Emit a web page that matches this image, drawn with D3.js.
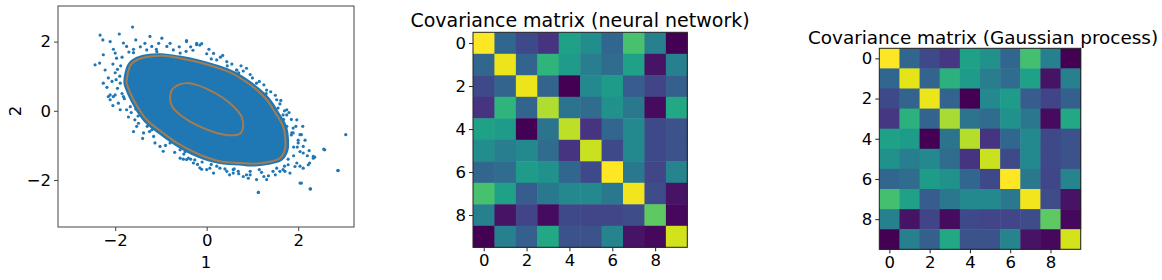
<!DOCTYPE html>
<html><head><meta charset="utf-8">
<script src="https://cdn.jsdelivr.net/npm/d3@7"></script>
<style>body{margin:0;background:#fff} text{font-family:"DejaVu Sans",sans-serif;fill:#000}</style>
</head><body><svg id="c" width="1162" height="280"></svg>
<script>
// ---------- data ----------
const scatterTicks = [-2, 0, 2];
const heatTicks = [0, 2, 4, 6, 8];
const xLabel = "1", yLabel = "2";
const titleNN = "Covariance matrix (neural network)";
const titleGP = "Covariance matrix (Gaussian process)";

// dense core of the sample cloud (data coords)
const coreOutline = [[-1.82,0.80],[-1.80,1.07],[-1.72,1.37],[-1.53,1.56],[-1.25,1.65],[-0.93,1.66],[-0.56,1.59],[-0.19,1.49],[0.18,1.35],[0.55,1.18],[0.86,0.95],[1.15,0.66],[1.39,0.35],[1.60,-0.08],[1.75,-0.43],[1.80,-0.85],[1.78,-1.18],[1.65,-1.44],[1.33,-1.57],[1.0,-1.61],[0.7,-1.58],[0.25,-1.53],[-0.2,-1.35],[-0.70,-1.00],[-1.02,-0.70],[-1.38,-0.31],[-1.66,0.27],[-1.78,0.62]];
// individual samples outside the dense core
const samples = [[-1.62,2.42],[-2.33,2.19],[-2.27,2.05],[-1.91,2.22],[-2.11,2.0],[-1.24,2.15],[-0.98,2.1],[-0.44,2.03],[-0.22,1.91],[-0.11,1.94],[-2.26,1.62],[-2.04,1.78],[-1.82,1.96],[-1.75,1.86],[-2.0,1.67],[-1.97,1.52],[-2.44,1.33],[-2.34,1.38],[-2.22,1.18],[-2.15,0.95],[-2.07,0.85],[-2.26,0.8],[-1.89,0.8],[-2.04,0.41],[-2.11,0.46],[-1.82,0.41],[-1.67,0.12],[-1.57,-0.26],[-1.53,-0.45],[-1.31,1.76],[-1.2,1.86],[-1.09,1.71],[-0.87,1.86],[-0.73,1.76],[-0.58,1.67],[0.22,1.47],[0.44,1.42],[0.66,1.18],
[3.04,-0.69],[2.87,-1.73],[2.56,-1.11],[2.26,-2.26],[2.04,-2.09],[1.13,-2.36],[2.33,-1.37],[2.36,-1.34],[2.22,-1.56],[2.11,-1.66],[2.24,-1.15],[2.07,-0.69],[1.97,-0.26],[1.89,-0.5],[1.86,-0.64],[1.75,-0.12],[1.56,0.08],[1.45,0.12],[1.67,-0.12],[1.75,0.03],[1.09,-1.99],[1.31,-1.99],[1.35,-1.88],[0.91,-1.95],[0.95,-1.85],[0.69,-1.75],[0.58,-1.7],[0.44,-1.75],[0.29,-1.66],[0.07,-1.66],[-0.11,-1.69],[-0.26,-1.42],[-0.4,-1.37],[-0.51,-1.4],[-0.58,-1.13],[-0.47,-1.18],[1.53,-1.66],[1.6,-1.75],[1.71,-1.75],[1.82,-1.8],[1.93,-1.61],[1.97,-1.51],[1.78,-1.56],[2.04,-1.18],[2.11,-1.22],[2.0,-0.93],
[-1.71,-0.18],[-1.49,-0.36],[-1.6,-0.6],[-1.38,-0.64],[-1.16,-0.74],[-1.13,-0.93],[-0.95,-1.17],[-1.02,-1.03],[-0.8,-0.93],[-0.58,-1.37],[-0.44,-1.41],[-2.18,0.68],[-2.11,0.32],[-2.0,0.46],[-2.15,0.41],[-1.93,0.22],[-1.89,0.03],[-1.75,0.03],
[-0.15,1.9],[-0.22,1.95],[-0.44,2.0],[0.15,1.66],[0.65,1.18],[0.87,1.23],[1.09,0.8],[1.31,0.6],[1.24,0.41],[1.53,0.32],[1.75,-0.45],[1.89,-0.64],[2.04,-0.69],[2.11,-1.03],[2.33,-1.32],[2.58,-1.13],[2.25,-1.51],[2.04,-1.6],[2.07,-2.09],[2.27,-2.26],[2.87,-1.72],[1.13,-2.36],[0.58,-1.8],[0.87,-1.85],[1.67,-1.7],[0.22,-1.6],[0,-1.7],[-0.15,-1.65],[-0.29,-1.51],
[-1.95,1.2],[-1.9,1.0],[-2.0,1.1],[-1.7,1.7],[-1.45,1.85],[-1.6,1.78],[-1.35,1.95],[-0.8,1.95],[-0.6,1.85],[-0.3,1.75],[0.0,1.65],[0.3,1.55],[0.55,1.35],[0.8,1.15],[0.95,1.05],[1.15,0.85],[1.4,0.55],[1.6,0.2],[1.7,0.0],[1.85,-0.25],[1.95,-0.45],[2.0,-0.85],[1.98,-1.05],[1.9,-1.3],[1.7,-1.6],[1.45,-1.75],[1.2,-1.78],[0.95,-1.75],[0.7,-1.82],[0.4,-1.68],[0.1,-1.55],[-0.35,-1.4],[-0.9,-1.0],[-1.25,-0.6],[-1.5,-0.15],[-1.8,0.35],[-1.95,0.65],[-1.98,0.9],
[-2.05,1.35],[-1.85,1.55],[-1.55,2.05],[-1.05,1.95],[-0.35,1.85],[0.05,1.78],[0.35,1.6],[0.75,1.3],[1.0,0.95],[1.25,0.75],[1.5,0.45],[1.62,0.3],[1.8,-0.05],[2.1,-0.45],[2.15,-0.85],[2.2,-1.3],[1.5,-1.85],[1.25,-1.9],[0.8,-1.9],[0.5,-1.85],[0.15,-1.8],[-0.2,-1.55],[-0.7,-1.2],[-1.3,-0.45],[-1.4,-0.8],[-1.65,-0.05],[-2.05,0.15],
[-1.88,1.3],[-1.6,1.68],[-1.1,1.78],[-0.45,1.72],[0.1,1.5],[0.45,1.3],[0.7,1.1],[1.3,0.5],[1.68,-0.25],[1.85,-0.7],[1.9,-1.05],[1.78,-1.4],[1.15,-1.7],[0.6,-1.68],[-0.1,-1.48],[-0.5,-1.25],[-1.2,-0.55],[-1.55,0.05],[-1.85,0.5]];

// density contours (data coords)
const outerContour = [[-1.75,0.80],[-1.73,1.04],[-1.66,1.33],[-1.49,1.49],[-1.24,1.57],[-0.95,1.59],[-0.58,1.52],[-0.22,1.42],[0.15,1.28],[0.51,1.11],[0.80,0.89],[1.09,0.61],[1.31,0.32],[1.53,-0.12],[1.67,-0.45],[1.72,-0.84],[1.71,-1.13],[1.60,-1.37],[1.31,-1.49],[1.02,-1.53],[0.73,-1.51],[0.29,-1.46],[-0.15,-1.27],[-0.65,-0.93],[-0.95,-0.64],[-1.31,-0.26],[-1.60,0.32],[-1.71,0.65]];
const innerContour = [[-0.80,0.37],[-0.76,0.61],[-0.62,0.75],[-0.44,0.80],[-0.22,0.75],[0.07,0.59],[0.36,0.37],[0.62,0.08],[0.76,-0.16],[0.80,-0.45],[0.73,-0.66],[0.51,-0.71],[0.22,-0.64],[-0.07,-0.50],[-0.36,-0.31],[-0.62,-0.07],[-0.76,0.14]];

// covariance matrices (normalised colour values)
const nnMatrix = [
 [1.00,0.33,0.22,0.15,0.57,0.49,0.33,0.71,0.43,0.00],
 [0.33,0.97,0.32,0.65,0.55,0.42,0.35,0.57,0.05,0.43],
 [0.22,0.32,0.97,0.32,0.00,0.47,0.55,0.29,0.20,0.30],
 [0.15,0.65,0.32,0.88,0.38,0.35,0.50,0.40,0.03,0.60],
 [0.57,0.55,0.00,0.38,0.90,0.15,0.33,0.47,0.22,0.25],
 [0.49,0.42,0.47,0.35,0.15,0.92,0.22,0.47,0.22,0.25],
 [0.33,0.35,0.55,0.50,0.33,0.22,1.00,0.40,0.21,0.45],
 [0.71,0.57,0.29,0.40,0.47,0.47,0.40,0.98,0.23,0.05],
 [0.43,0.05,0.20,0.03,0.22,0.21,0.21,0.23,0.75,0.02],
 [0.00,0.43,0.30,0.60,0.25,0.25,0.45,0.05,0.02,0.93]];
const gpMatrix = [
 [1.00,0.33,0.22,0.16,0.57,0.50,0.33,0.70,0.43,0.00],
 [0.33,0.96,0.32,0.64,0.55,0.42,0.35,0.57,0.05,0.43],
 [0.22,0.32,0.97,0.32,0.00,0.47,0.55,0.29,0.20,0.30],
 [0.16,0.64,0.32,0.87,0.38,0.35,0.50,0.40,0.03,0.60],
 [0.57,0.55,0.00,0.38,0.89,0.15,0.33,0.47,0.22,0.25],
 [0.50,0.42,0.47,0.35,0.15,0.92,0.22,0.47,0.22,0.25],
 [0.33,0.35,0.55,0.50,0.33,0.22,1.00,0.40,0.21,0.45],
 [0.70,0.57,0.29,0.40,0.47,0.47,0.40,0.98,0.23,0.05],
 [0.43,0.05,0.20,0.03,0.22,0.21,0.21,0.23,0.75,0.02],
 [0.00,0.43,0.30,0.60,0.25,0.25,0.45,0.05,0.02,0.93]];

// ---------- drawing ----------
const svg = d3.select("#c");
const FS = 16.5;
const blue = "#1f77b4";
const intFmt = d3.format("d");

// scatter panel
{
  const x = d3.scaleLinear().domain([-3.25,3.22]).range([58,354]);
  const y = d3.scaleLinear().domain([-3.36,3.03]).range([227,6]);
  const g = svg.append("g");
  const clipId = "clipS";
  g.append("clipPath").attr("id",clipId).append("rect")
    .attr("x",58).attr("y",6).attr("width",296).attr("height",221);
  const pg = g.append("g").attr("clip-path",`url(#${clipId})`);
  const line = d3.line().x(d=>x(d[0])).y(d=>y(d[1])).curve(d3.curveCatmullRomClosed);
  pg.append("path").attr("d",line(coreOutline)).attr("fill",blue);
  pg.selectAll("circle").data(samples).join("circle")
    .attr("cx",d=>x(d[0])).attr("cy",d=>y(d[1])).attr("r",1.6).attr("fill",blue);
  [outerContour, innerContour].forEach(c=>{
    pg.append("path").attr("d",line(c)).attr("fill","none")
      .attr("stroke","#ff7f0e").attr("stroke-opacity",0.6).attr("stroke-width",2);
  });
  const ax = g.append("g").attr("transform","translate(0,227)")
    .call(d3.axisBottom(x).tickValues(scatterTicks).tickFormat(intFmt).tickSize(4).tickPadding(3));
  const ay = g.append("g").attr("transform","translate(58,0)")
    .call(d3.axisLeft(y).tickValues(scatterTicks).tickFormat(intFmt).tickSize(4).tickPadding(3));
  [ax,ay].forEach(a=>{
    a.select(".domain").remove();
    a.selectAll("line").attr("stroke","#444");
    a.selectAll("text").style("font-size",FS+"px").attr("fill","#000");
  });
  g.append("rect").attr("x",58).attr("y",6).attr("width",296).attr("height",221)
    .attr("fill","none").attr("stroke","#444").attr("stroke-width",1);
  g.append("text").attr("x",206).attr("y",268).attr("text-anchor","middle")
    .style("font-size",FS+"px").text(xLabel);
  g.append("text").attr("transform","translate(21,111) rotate(-90)").attr("text-anchor","middle")
    .style("font-size",FS+"px").text(yLabel);
}

function heatmap(mat, x0, x1, y0, y1, title, titleX, titleY, tfs){
  const n = mat.length;
  const idx = d3.range(n);
  const bx = d3.scaleBand().domain(idx).range([x0,x1]);
  const by = d3.scaleBand().domain(idx).range([y0,y1]);
  const lx = d3.scaleLinear().domain([-0.5,n-0.5]).range([x0,x1]);
  const ly = d3.scaleLinear().domain([-0.5,n-0.5]).range([y0,y1]);
  const color = d3.scaleSequential(d3.interpolateViridis).domain([0,1]);
  const g = svg.append("g");
  const cells = [];
  mat.forEach((row,i)=>row.forEach((v,j)=>cells.push({i,j,v})));
  g.selectAll("rect.cell").data(cells).join("rect").attr("class","cell")
    .attr("x",d=>bx(d.j)).attr("y",d=>by(d.i))
    .attr("width",bx.bandwidth()+0.5).attr("height",by.bandwidth()+0.5)
    .attr("fill",d=>color(d.v));
  const ax = g.append("g").attr("transform",`translate(0,${y1})`)
    .call(d3.axisBottom(lx).tickValues(heatTicks).tickFormat(intFmt).tickSize(4).tickPadding(3));
  const ay = g.append("g").attr("transform",`translate(${x0},0)`)
    .call(d3.axisLeft(ly).tickValues(heatTicks).tickFormat(intFmt).tickSize(4).tickPadding(3));
  [ax,ay].forEach(a=>{
    a.select(".domain").remove();
    a.selectAll("line").attr("stroke","#222");
    a.selectAll("text").style("font-size",FS+"px").attr("fill","#000");
  });
  g.append("rect").attr("x",x0).attr("y",y0).attr("width",x1-x0).attr("height",y1-y0)
    .attr("fill","none").attr("stroke","#222").attr("stroke-width",1);
  g.append("text").attr("x",titleX).attr("y",titleY).attr("text-anchor","middle")
    .style("font-size",tfs+"px").text(title);
}
heatmap(nnMatrix, 473, 687.3, 32.3, 247.3, titleNN, 580, 27, 19);
heatmap(gpMatrix, 879.3, 1080.7, 48.3, 249.3, titleGP, 983, 43.5, 18.4);
</script></body></html>
